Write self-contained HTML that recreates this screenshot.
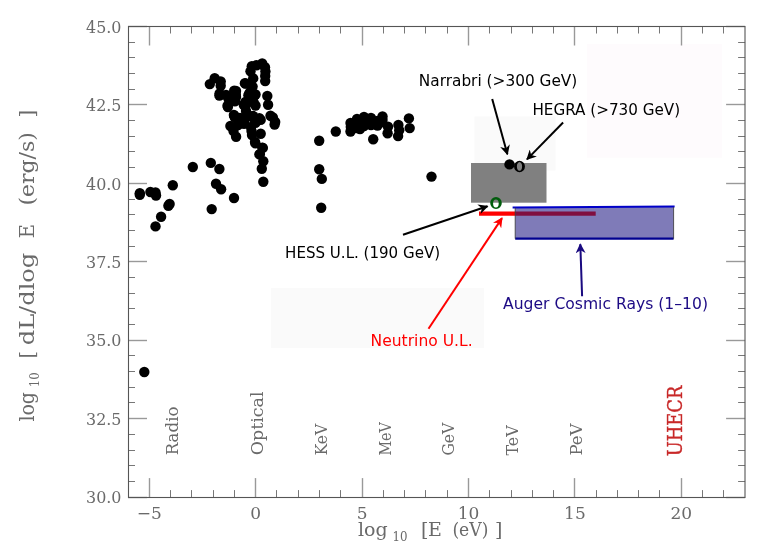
<!DOCTYPE html>
<html><head><meta charset="utf-8"><style>
html,body{margin:0;padding:0;background:#fff;}
svg{display:block;}
.ser{font-family:"DejaVu Serif","Liberation Serif",serif;fill:#6a6a6a;}
.ann{font-family:"DejaVu Sans","Liberation Sans",sans-serif;font-size:15px;}
</style></head><body>
<svg width="761" height="553" viewBox="0 0 761 553">
<rect x="0" y="0" width="761" height="553" fill="#fff"/>
<!-- faint rects -->
<rect x="587" y="44" width="135" height="113.7" fill="#fefbfd"/>
<rect x="474.5" y="116.5" width="81" height="54" fill="#fafafa"/>
<rect x="271" y="288" width="213" height="60" fill="#fafafa"/>
<!-- axes -->
<g stroke="#777" stroke-width="1" fill="none">
<line x1="149.5" y1="497.1" x2="149.5" y2="478.1" stroke="#999" stroke-width="1.4"/>
<line x1="149.5" y1="26.5" x2="149.5" y2="45.5" stroke="#999" stroke-width="1.4"/>
<line x1="170.5" y1="497.1" x2="170.5" y2="490.1"/>
<line x1="170.5" y1="26.5" x2="170.5" y2="33.5"/>
<line x1="191.5" y1="497.1" x2="191.5" y2="490.1"/>
<line x1="191.5" y1="26.5" x2="191.5" y2="33.5"/>
<line x1="213.5" y1="497.1" x2="213.5" y2="490.1"/>
<line x1="213.5" y1="26.5" x2="213.5" y2="33.5"/>
<line x1="234.5" y1="497.1" x2="234.5" y2="490.1"/>
<line x1="234.5" y1="26.5" x2="234.5" y2="33.5"/>
<line x1="255.5" y1="497.1" x2="255.5" y2="478.1" stroke="#999" stroke-width="1.4"/>
<line x1="255.5" y1="26.5" x2="255.5" y2="45.5" stroke="#999" stroke-width="1.4"/>
<line x1="276.5" y1="497.1" x2="276.5" y2="490.1"/>
<line x1="276.5" y1="26.5" x2="276.5" y2="33.5"/>
<line x1="298.5" y1="497.1" x2="298.5" y2="490.1"/>
<line x1="298.5" y1="26.5" x2="298.5" y2="33.5"/>
<line x1="319.5" y1="497.1" x2="319.5" y2="490.1"/>
<line x1="319.5" y1="26.5" x2="319.5" y2="33.5"/>
<line x1="340.5" y1="497.1" x2="340.5" y2="490.1"/>
<line x1="340.5" y1="26.5" x2="340.5" y2="33.5"/>
<line x1="362.5" y1="497.1" x2="362.5" y2="478.1" stroke="#999" stroke-width="1.4"/>
<line x1="362.5" y1="26.5" x2="362.5" y2="45.5" stroke="#999" stroke-width="1.4"/>
<line x1="383.5" y1="497.1" x2="383.5" y2="490.1"/>
<line x1="383.5" y1="26.5" x2="383.5" y2="33.5"/>
<line x1="404.5" y1="497.1" x2="404.5" y2="490.1"/>
<line x1="404.5" y1="26.5" x2="404.5" y2="33.5"/>
<line x1="425.5" y1="497.1" x2="425.5" y2="490.1"/>
<line x1="425.5" y1="26.5" x2="425.5" y2="33.5"/>
<line x1="447.5" y1="497.1" x2="447.5" y2="490.1"/>
<line x1="447.5" y1="26.5" x2="447.5" y2="33.5"/>
<line x1="468.5" y1="497.1" x2="468.5" y2="478.1" stroke="#999" stroke-width="1.4"/>
<line x1="468.5" y1="26.5" x2="468.5" y2="45.5" stroke="#999" stroke-width="1.4"/>
<line x1="489.5" y1="497.1" x2="489.5" y2="490.1"/>
<line x1="489.5" y1="26.5" x2="489.5" y2="33.5"/>
<line x1="511.5" y1="497.1" x2="511.5" y2="490.1"/>
<line x1="511.5" y1="26.5" x2="511.5" y2="33.5"/>
<line x1="532.5" y1="497.1" x2="532.5" y2="490.1"/>
<line x1="532.5" y1="26.5" x2="532.5" y2="33.5"/>
<line x1="553.5" y1="497.1" x2="553.5" y2="490.1"/>
<line x1="553.5" y1="26.5" x2="553.5" y2="33.5"/>
<line x1="574.5" y1="497.1" x2="574.5" y2="478.1" stroke="#999" stroke-width="1.4"/>
<line x1="574.5" y1="26.5" x2="574.5" y2="45.5" stroke="#999" stroke-width="1.4"/>
<line x1="596.5" y1="497.1" x2="596.5" y2="490.1"/>
<line x1="596.5" y1="26.5" x2="596.5" y2="33.5"/>
<line x1="617.5" y1="497.1" x2="617.5" y2="490.1"/>
<line x1="617.5" y1="26.5" x2="617.5" y2="33.5"/>
<line x1="638.5" y1="497.1" x2="638.5" y2="490.1"/>
<line x1="638.5" y1="26.5" x2="638.5" y2="33.5"/>
<line x1="659.5" y1="497.1" x2="659.5" y2="490.1"/>
<line x1="659.5" y1="26.5" x2="659.5" y2="33.5"/>
<line x1="681.5" y1="497.1" x2="681.5" y2="478.1" stroke="#999" stroke-width="1.4"/>
<line x1="681.5" y1="26.5" x2="681.5" y2="45.5" stroke="#999" stroke-width="1.4"/>
<line x1="702.5" y1="497.1" x2="702.5" y2="490.1"/>
<line x1="702.5" y1="26.5" x2="702.5" y2="33.5"/>
<line x1="723.5" y1="497.1" x2="723.5" y2="490.1"/>
<line x1="723.5" y1="26.5" x2="723.5" y2="33.5"/>
<line x1="128.0" y1="497.5" x2="147.0" y2="497.5" stroke="#999" stroke-width="1.4"/>
<line x1="745.1" y1="497.5" x2="726.1" y2="497.5" stroke="#999" stroke-width="1.4"/>
<line x1="128.0" y1="481.5" x2="135.0" y2="481.5"/>
<line x1="745.1" y1="481.5" x2="738.1" y2="481.5"/>
<line x1="128.0" y1="465.5" x2="135.0" y2="465.5"/>
<line x1="745.1" y1="465.5" x2="738.1" y2="465.5"/>
<line x1="128.0" y1="450.5" x2="135.0" y2="450.5"/>
<line x1="745.1" y1="450.5" x2="738.1" y2="450.5"/>
<line x1="128.0" y1="434.5" x2="135.0" y2="434.5"/>
<line x1="745.1" y1="434.5" x2="738.1" y2="434.5"/>
<line x1="128.0" y1="418.5" x2="147.0" y2="418.5" stroke="#999" stroke-width="1.4"/>
<line x1="745.1" y1="418.5" x2="726.1" y2="418.5" stroke="#999" stroke-width="1.4"/>
<line x1="128.0" y1="402.5" x2="135.0" y2="402.5"/>
<line x1="745.1" y1="402.5" x2="738.1" y2="402.5"/>
<line x1="128.0" y1="387.5" x2="135.0" y2="387.5"/>
<line x1="745.1" y1="387.5" x2="738.1" y2="387.5"/>
<line x1="128.0" y1="371.5" x2="135.0" y2="371.5"/>
<line x1="745.1" y1="371.5" x2="738.1" y2="371.5"/>
<line x1="128.0" y1="355.5" x2="135.0" y2="355.5"/>
<line x1="745.1" y1="355.5" x2="738.1" y2="355.5"/>
<line x1="128.0" y1="340.5" x2="147.0" y2="340.5" stroke="#999" stroke-width="1.4"/>
<line x1="745.1" y1="340.5" x2="726.1" y2="340.5" stroke="#999" stroke-width="1.4"/>
<line x1="128.0" y1="324.5" x2="135.0" y2="324.5"/>
<line x1="745.1" y1="324.5" x2="738.1" y2="324.5"/>
<line x1="128.0" y1="308.5" x2="135.0" y2="308.5"/>
<line x1="745.1" y1="308.5" x2="738.1" y2="308.5"/>
<line x1="128.0" y1="293.5" x2="135.0" y2="293.5"/>
<line x1="745.1" y1="293.5" x2="738.1" y2="293.5"/>
<line x1="128.0" y1="277.5" x2="135.0" y2="277.5"/>
<line x1="745.1" y1="277.5" x2="738.1" y2="277.5"/>
<line x1="128.0" y1="261.5" x2="147.0" y2="261.5" stroke="#999" stroke-width="1.4"/>
<line x1="745.1" y1="261.5" x2="726.1" y2="261.5" stroke="#999" stroke-width="1.4"/>
<line x1="128.0" y1="246.5" x2="135.0" y2="246.5"/>
<line x1="745.1" y1="246.5" x2="738.1" y2="246.5"/>
<line x1="128.0" y1="230.5" x2="135.0" y2="230.5"/>
<line x1="745.1" y1="230.5" x2="738.1" y2="230.5"/>
<line x1="128.0" y1="214.5" x2="135.0" y2="214.5"/>
<line x1="745.1" y1="214.5" x2="738.1" y2="214.5"/>
<line x1="128.0" y1="199.5" x2="135.0" y2="199.5"/>
<line x1="745.1" y1="199.5" x2="738.1" y2="199.5"/>
<line x1="128.0" y1="183.5" x2="147.0" y2="183.5" stroke="#999" stroke-width="1.4"/>
<line x1="745.1" y1="183.5" x2="726.1" y2="183.5" stroke="#999" stroke-width="1.4"/>
<line x1="128.0" y1="167.5" x2="135.0" y2="167.5"/>
<line x1="745.1" y1="167.5" x2="738.1" y2="167.5"/>
<line x1="128.0" y1="151.5" x2="135.0" y2="151.5"/>
<line x1="745.1" y1="151.5" x2="738.1" y2="151.5"/>
<line x1="128.0" y1="136.5" x2="135.0" y2="136.5"/>
<line x1="745.1" y1="136.5" x2="738.1" y2="136.5"/>
<line x1="128.0" y1="120.5" x2="135.0" y2="120.5"/>
<line x1="745.1" y1="120.5" x2="738.1" y2="120.5"/>
<line x1="128.0" y1="104.5" x2="147.0" y2="104.5" stroke="#999" stroke-width="1.4"/>
<line x1="745.1" y1="104.5" x2="726.1" y2="104.5" stroke="#999" stroke-width="1.4"/>
<line x1="128.0" y1="89.5" x2="135.0" y2="89.5"/>
<line x1="745.1" y1="89.5" x2="738.1" y2="89.5"/>
<line x1="128.0" y1="73.5" x2="135.0" y2="73.5"/>
<line x1="745.1" y1="73.5" x2="738.1" y2="73.5"/>
<line x1="128.0" y1="57.5" x2="135.0" y2="57.5"/>
<line x1="745.1" y1="57.5" x2="738.1" y2="57.5"/>
<line x1="128.0" y1="42.5" x2="135.0" y2="42.5"/>
<line x1="745.1" y1="42.5" x2="738.1" y2="42.5"/>
<line x1="128.0" y1="26.5" x2="147.0" y2="26.5" stroke="#999" stroke-width="1.4"/>
<line x1="745.1" y1="26.5" x2="726.1" y2="26.5" stroke="#999" stroke-width="1.4"/>
</g>
<rect x="128.5" y="26.5" width="616.5" height="471" fill="none" stroke="#555" stroke-width="1.1"/>
<!-- tick labels -->
<g class="ser" font-size="17">
<text x="121.5" y="32.7" text-anchor="end" textLength="35.5" lengthAdjust="spacingAndGlyphs">45.0</text>
<text x="121.5" y="111.1" text-anchor="end" textLength="35.5" lengthAdjust="spacingAndGlyphs">42.5</text>
<text x="121.5" y="189.6" text-anchor="end" textLength="35.5" lengthAdjust="spacingAndGlyphs">40.0</text>
<text x="121.5" y="268.0" text-anchor="end" textLength="35.5" lengthAdjust="spacingAndGlyphs">37.5</text>
<text x="121.5" y="346.4" text-anchor="end" textLength="35.5" lengthAdjust="spacingAndGlyphs">35.0</text>
<text x="121.5" y="424.9" text-anchor="end" textLength="35.5" lengthAdjust="spacingAndGlyphs">32.5</text>
<text x="121.5" y="503.3" text-anchor="end" textLength="35.5" lengthAdjust="spacingAndGlyphs">30.0</text>
<text x="149.3" y="519.2" text-anchor="middle">−5</text>
<text x="255.7" y="519.2" text-anchor="middle">0</text>
<text x="362.1" y="519.2" text-anchor="middle">5</text>
<text x="468.5" y="519.2" text-anchor="middle">10</text>
<text x="574.9" y="519.2" text-anchor="middle">15</text>
<text x="681.3" y="519.2" text-anchor="middle">20</text>
</g>
<!-- axis titles -->
<g class="ser" font-size="19">
<text x="358" y="536">log</text>
<text x="392.6" y="541.2" font-size="13.5" textLength="15" lengthAdjust="spacingAndGlyphs">10</text>
<text x="421" y="536">[</text>
<text x="428" y="536">E</text>
<text x="452.4" y="536" textLength="36" lengthAdjust="spacingAndGlyphs">(eV)</text>
<text x="495" y="536">]</text>
<g transform="translate(34.1,0) rotate(-90)" font-size="19.5">
<text x="-421.6" y="0" textLength="29.6" lengthAdjust="spacingAndGlyphs">log</text>
<text x="-387.2" y="4.6" font-size="12.5" textLength="14.8" lengthAdjust="spacingAndGlyphs">10</text>
<text x="-358.5" y="0">[</text>
<text x="-345.3" y="0" textLength="92.6" lengthAdjust="spacingAndGlyphs">dL/dlog</text>
<text x="-238.3" y="0">E</text>
<text x="-205.6" y="0" textLength="73.5" lengthAdjust="spacingAndGlyphs">(erg/s)</text>
<text x="-117.4" y="0">]</text>
</g>
</g>
<!-- band labels -->
<g class="ser" font-size="17">
<text transform="translate(177.9,455.3) rotate(-90)" textLength="48.8" lengthAdjust="spacingAndGlyphs">Radio</text>
<text transform="translate(263,455.3) rotate(-90)" textLength="63.8" lengthAdjust="spacingAndGlyphs">Optical</text>
<text transform="translate(326.8,455.3) rotate(-90)" textLength="31.5" lengthAdjust="spacingAndGlyphs">KeV</text>
<text transform="translate(391,455.6) rotate(-90)" textLength="33.5" lengthAdjust="spacingAndGlyphs">MeV</text>
<text transform="translate(454.1,455.6) rotate(-90)" textLength="32.9" lengthAdjust="spacingAndGlyphs">GeV</text>
<text transform="translate(518,455.6) rotate(-90)" textLength="30.2" lengthAdjust="spacingAndGlyphs">TeV</text>
<text transform="translate(581.7,455.6) rotate(-90)" textLength="32.2" lengthAdjust="spacingAndGlyphs">PeV</text>
<text transform="translate(681.7,456.3) rotate(-90)" font-size="21" style="fill:#c82828;stroke:#c82828;stroke-width:0.35" textLength="70.7" lengthAdjust="spacingAndGlyphs">UHECR</text>
</g>
<!-- boxes -->
<rect x="471" y="163" width="75.5" height="39.7" fill="#808080"/>
<rect x="515.2" y="207" width="158.4" height="31.7" fill="#7f7bb8"/>
<line x1="479" y1="213.6" x2="515.2" y2="213.6" stroke="#ff0000" stroke-width="4.2"/>
<line x1="515.2" y1="213.6" x2="595.7" y2="213.6" stroke="#800f40" stroke-width="4.2"/>
<line x1="512.6" y1="207.5" x2="674.6" y2="206.6" stroke="#0000c8" stroke-width="2"/>
<line x1="515.2" y1="238.7" x2="673.6" y2="238.7" stroke="#000090" stroke-width="2.2"/>
<line x1="515.2" y1="207.5" x2="515.2" y2="238.7" stroke="#333" stroke-width="0.8"/>
<line x1="673.6" y1="207" x2="673.6" y2="238.7" stroke="#333" stroke-width="0.8"/>
<!-- dots -->
<g fill="#000">
<circle cx="144.3" cy="372" r="5.2"/>
<circle cx="139.8" cy="193.2" r="5.2"/>
<circle cx="139.8" cy="194.8" r="5.2"/>
<circle cx="150.4" cy="192" r="5.2"/>
<circle cx="156" cy="195.5" r="5.2"/>
<circle cx="155.5" cy="192.5" r="5.2"/>
<circle cx="172.8" cy="185.3" r="5.2"/>
<circle cx="169.6" cy="204" r="5.2"/>
<circle cx="168.4" cy="205.8" r="5.2"/>
<circle cx="161.1" cy="216.8" r="5.2"/>
<circle cx="155.5" cy="226.4" r="5.2"/>
<circle cx="192.8" cy="167" r="5.2"/>
<circle cx="210.8" cy="162.9" r="5.2"/>
<circle cx="219.4" cy="169" r="5.2"/>
<circle cx="216" cy="183.7" r="5.2"/>
<circle cx="221.1" cy="189.2" r="5.2"/>
<circle cx="234" cy="198" r="5.2"/>
<circle cx="211.7" cy="209.1" r="5.2"/>
<circle cx="233.5" cy="131" r="5.2"/>
<circle cx="234.8" cy="117.2" r="5.2"/>
<circle cx="230.4" cy="126" r="5.2"/>
<circle cx="236.1" cy="136.8" r="5.2"/>
<circle cx="238" cy="125" r="5.2"/>
<circle cx="244" cy="123.8" r="5.2"/>
<circle cx="240" cy="118" r="5.2"/>
<circle cx="251.5" cy="131" r="5.2"/>
<circle cx="251" cy="127" r="5.2"/>
<circle cx="252" cy="135" r="5.2"/>
<circle cx="247" cy="116" r="5.2"/>
<circle cx="253" cy="116" r="5.2"/>
<circle cx="214.7" cy="78.2" r="5.2"/>
<circle cx="209.8" cy="84.1" r="5.2"/>
<circle cx="220.7" cy="81.4" r="5.2"/>
<circle cx="220.7" cy="85.8" r="5.2"/>
<circle cx="219.6" cy="93.4" r="5.2"/>
<circle cx="226.1" cy="95" r="5.2"/>
<circle cx="234.2" cy="90.7" r="5.2"/>
<circle cx="219.4" cy="95.5" r="5.2"/>
<circle cx="227.5" cy="105.8" r="5.2"/>
<circle cx="234.8" cy="101.3" r="5.2"/>
<circle cx="233.9" cy="114.9" r="5.2"/>
<circle cx="243.8" cy="105" r="5.2"/>
<circle cx="228.7" cy="99.2" r="5.2"/>
<circle cx="235" cy="100.8" r="5.2"/>
<circle cx="227.9" cy="107.1" r="5.2"/>
<circle cx="235.8" cy="94.5" r="5.2"/>
<circle cx="251.5" cy="87.4" r="5.2"/>
<circle cx="255.5" cy="94.5" r="5.2"/>
<circle cx="248.4" cy="95.3" r="5.2"/>
<circle cx="255.5" cy="105.5" r="5.2"/>
<circle cx="246" cy="104.7" r="5.2"/>
<circle cx="251.5" cy="100.8" r="5.2"/>
<circle cx="246" cy="111" r="5.2"/>
<circle cx="234.2" cy="115.8" r="5.2"/>
<circle cx="243.7" cy="118.1" r="5.2"/>
<circle cx="251.5" cy="116.5" r="5.2"/>
<circle cx="259.4" cy="118.1" r="5.2"/>
<circle cx="243.7" cy="122.9" r="5.2"/>
<circle cx="255.5" cy="122.9" r="5.2"/>
<circle cx="267.3" cy="96" r="5.2"/>
<circle cx="268.1" cy="104.7" r="5.2"/>
<circle cx="270.5" cy="115.8" r="5.2"/>
<circle cx="275.2" cy="122" r="5.2"/>
<circle cx="260.7" cy="133.7" r="5.2"/>
<circle cx="255" cy="141.9" r="5.2"/>
<circle cx="262.3" cy="147.6" r="5.2"/>
<circle cx="259.9" cy="154.1" r="5.2"/>
<circle cx="272.9" cy="117.4" r="5.2"/>
<circle cx="274.6" cy="124.5" r="5.2"/>
<circle cx="236.3" cy="117.4" r="5.2"/>
<circle cx="244.4" cy="119.9" r="5.2"/>
<circle cx="255" cy="119.9" r="5.2"/>
<circle cx="260.7" cy="119.9" r="5.2"/>
<circle cx="255.4" cy="143.4" r="5.2"/>
<circle cx="262.8" cy="147.9" r="5.2"/>
<circle cx="259.4" cy="154.4" r="5.2"/>
<circle cx="263.3" cy="161.3" r="5.2"/>
<circle cx="261.8" cy="168.8" r="5.2"/>
<circle cx="263.3" cy="181.7" r="5.2"/>
<circle cx="251.8" cy="66.3" r="5.2"/>
<circle cx="256.5" cy="65.2" r="5.2"/>
<circle cx="262.2" cy="63.5" r="5.2"/>
<circle cx="265" cy="67.2" r="5.2"/>
<circle cx="265.4" cy="71.5" r="5.2"/>
<circle cx="265.2" cy="76" r="5.2"/>
<circle cx="265.2" cy="81.1" r="5.2"/>
<circle cx="250.5" cy="71.2" r="5.2"/>
<circle cx="253.2" cy="78.4" r="5.2"/>
<circle cx="245.6" cy="83.5" r="5.2"/>
<circle cx="252.6" cy="86.6" r="5.2"/>
<circle cx="254.9" cy="94.8" r="5.2"/>
<circle cx="249.5" cy="93" r="5.2"/>
<circle cx="245.4" cy="102" r="5.2"/>
<circle cx="253.5" cy="102" r="5.2"/>
<circle cx="236" cy="91" r="5.2"/>
<circle cx="236" cy="97" r="5.2"/>
<circle cx="244.9" cy="83.3" r="5.2"/>
<circle cx="319.2" cy="140.8" r="5.2"/>
<circle cx="319.2" cy="169.2" r="5.2"/>
<circle cx="321.8" cy="178.9" r="5.2"/>
<circle cx="321.2" cy="207.7" r="5.2"/>
<circle cx="335.8" cy="131.5" r="5.2"/>
<circle cx="350.5" cy="123" r="5.2"/>
<circle cx="350.5" cy="131.5" r="5.2"/>
<circle cx="354" cy="127" r="5.2"/>
<circle cx="361" cy="124" r="5.2"/>
<circle cx="367.5" cy="122" r="5.2"/>
<circle cx="374" cy="123" r="5.2"/>
<circle cx="379.5" cy="123" r="5.2"/>
<circle cx="350.8" cy="127" r="5.2"/>
<circle cx="360" cy="129" r="5.2"/>
<circle cx="357" cy="119" r="5.2"/>
<circle cx="357" cy="128" r="5.2"/>
<circle cx="364" cy="117" r="5.2"/>
<circle cx="364" cy="126" r="5.2"/>
<circle cx="371" cy="118" r="5.2"/>
<circle cx="371" cy="125" r="5.2"/>
<circle cx="377.5" cy="121" r="5.2"/>
<circle cx="377.5" cy="125.5" r="5.2"/>
<circle cx="382.5" cy="116.5" r="5.2"/>
<circle cx="382.5" cy="120" r="5.2"/>
<circle cx="373.2" cy="139.3" r="5.2"/>
<circle cx="388" cy="126.7" r="5.2"/>
<circle cx="387.6" cy="133.2" r="5.2"/>
<circle cx="398.4" cy="124.9" r="5.2"/>
<circle cx="399.2" cy="130.3" r="5.2"/>
<circle cx="398.1" cy="136.1" r="5.2"/>
<circle cx="408.9" cy="118.4" r="5.2"/>
<circle cx="409.7" cy="128.1" r="5.2"/>
<circle cx="431.5" cy="176.6" r="5.2"/>
<circle cx="509.5" cy="164.4" r="5.2"/>
</g>
<!-- o markers -->
<path d="M514.05,166.5 a5.45,5.75 0 1,0 10.9,0 a5.45,5.75 0 1,0 -10.9,0 Z M516.9,166.6 a2.6,4.15 0 1,0 5.2,0 a2.6,4.15 0 1,0 -5.2,0 Z" fill="#000" fill-rule="evenodd"/>
<path d="M490.2,203.05 a5.8,5.95 0 1,0 11.6,0 a5.8,5.95 0 1,0 -11.6,0 Z M493.1,203.4 a2.8,4 0 1,0 5.6,0 a2.8,4 0 1,0 -5.6,0 Z" fill="#005c0c" fill-rule="evenodd"/>
<!-- arrows -->
<defs>
<marker id="ahk" viewBox="0 0 10 10" refX="9" refY="5" markerWidth="5" markerHeight="5" orient="auto" markerUnits="strokeWidth">
<path d="M0,0 L10,5 L0,10 L3,5 Z" fill="#000"/>
</marker>
<marker id="ahr" viewBox="0 0 10 10" refX="9" refY="5" markerWidth="5" markerHeight="5" orient="auto" markerUnits="strokeWidth">
<path d="M0,0 L10,5 L0,10 L3,5 Z" fill="#ff0000"/>
</marker>
<marker id="ahb" viewBox="0 0 10 10" refX="9" refY="5" markerWidth="5" markerHeight="5" orient="auto" markerUnits="strokeWidth">
<path d="M0,0 L10,5 L0,10 L3,5 Z" fill="#1a0a80"/>
</marker>

</defs>
<g fill="none" stroke-width="2">
<line x1="492.2" y1="99.1" x2="507.4" y2="154.3" stroke="#000" marker-end="url(#ahk)"/>
<line x1="563.1" y1="122.5" x2="527" y2="159.4" stroke="#000" marker-end="url(#ahk)"/>
<line x1="403" y1="234.8" x2="487.5" y2="206.3" stroke="#000" marker-end="url(#ahk)"/>
<line x1="428.5" y1="328.8" x2="502" y2="218.1" stroke="#ff0000" marker-end="url(#ahr)"/>
<line x1="582.1" y1="296.2" x2="580.3" y2="244.2" stroke="#1a0a80" marker-end="url(#ahb)"/>
</g>
<!-- annotations -->
<g class="ann">
<text x="418.8" y="85.5" fill="#000" textLength="158.5" lengthAdjust="spacingAndGlyphs">Narrabri (&gt;300 GeV)</text>
<text x="532.4" y="115" fill="#000" textLength="147.8" lengthAdjust="spacingAndGlyphs">HEGRA (&gt;730 GeV)</text>
<text x="285.1" y="257.6" fill="#000" textLength="155" lengthAdjust="spacingAndGlyphs">HESS U.L. (190 GeV)</text>
<text x="370.6" y="346.2" fill="#ff0000" textLength="102" lengthAdjust="spacingAndGlyphs">Neutrino U.L.</text>
<text x="503" y="309" fill="#1c0a84" textLength="205" lengthAdjust="spacingAndGlyphs">Auger Cosmic Rays (1–10)</text>
</g>
</svg>
</body></html>
